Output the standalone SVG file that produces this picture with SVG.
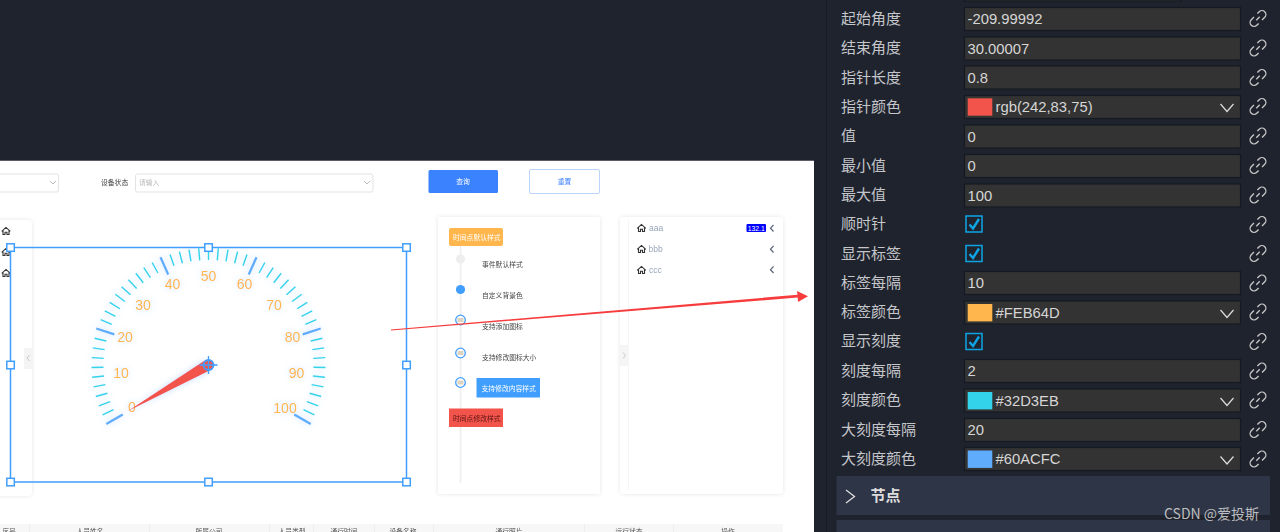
<svg xmlns="http://www.w3.org/2000/svg" width="1280" height="532" viewBox="0 0 1280 532">
<style>
text{font-family:"Liberation Sans","Noto Sans CJK SC",sans-serif}
.cn{font-family:"Noto Sans CJK SC","Noto Sans",sans-serif}
.lb{font-family:"Noto Sans CJK SC",sans-serif;font-size:15px;fill:#c4c6ca}
.val{font-size:14.8px;fill:#d6d6d6}
.inp{fill:#333333;stroke:#141922;stroke-width:1.2}
.chk{fill:none;stroke:#0ea5e6;stroke-width:1.5}
.chkm{fill:none;stroke:#0ea5e6;stroke-width:2.4}
.chev{fill:none;stroke:#dddddd;stroke-width:1.2}
.lnk{fill:none;stroke:#c8c8c8;stroke-width:1.1}
.s{font-family:"Noto Sans CJK SC",sans-serif;font-size:6.8px;fill:#444;filter:url(#soft)}
.g{font-size:14px;fill:#feb64d;text-anchor:middle}
.tick{stroke:#32d3eb;stroke-width:1.4}
.major{stroke:#60acfc;stroke-width:2.2}
.hd{fill:#fff;stroke:#409eff;stroke-width:1.5}
.card{fill:#fff;filter:url(#cardsh)}
.sep{stroke:#eeeeee;stroke-width:1}
.th{font-family:"Noto Sans CJK SC",sans-serif;font-size:6.8px;fill:#555;text-anchor:middle;filter:url(#soft)}
.it{font-size:8.5px;fill:#98a6bc;filter:url(#soft)}
.arr{fill:none;stroke:#5a6478;stroke-width:1.2}
</style>
<defs>
<filter id="glow" x="-20%" y="-20%" width="140%" height="140%"><feDropShadow dx="0" dy="0" stdDeviation="3" flood-color="#60acfc" flood-opacity="0.4"/></filter>
<filter id="cardsh" x="-10%" y="-10%" width="120%" height="120%"><feDropShadow dx="0" dy="0" stdDeviation="2" flood-color="#000" flood-opacity="0.1"/></filter>
<filter id="soft" x="-10%" y="-30%" width="120%" height="160%"><feGaussianBlur stdDeviation="0.35"/></filter>
<g id="link" class="lnk"><g transform="rotate(-45) scale(1.22)"><path d="M-1.5,-3.2H-4.6A3.2,3.2 0 0 0 -4.6,3.2H-2.5M1.5,3.2H4.6A3.2,3.2 0 0 0 4.6,-3.2H2.5M-2,0H2"/></g></g>
<path id="dd" class="chev" d="M0,0L6.500,7.500L13,0"/>
<g id="check"><rect class="chk" x="0" y="0" width="16" height="16"/><path class="chkm" d="M3.500,8.500L7,12.500L13,3"/></g>
<line id="t" class="tick" x1="208.500" y1="248" x2="208.500" y2="260"/>
<line id="m" class="major" x1="208.500" y1="247" x2="208.500" y2="266"/>
<path id="home" d="M-4.300,0.300L0,-3.600L4.300,0.300M-3,-0.700V3.500H-1V1.200H1V3.500H3V-0.700" fill="none" stroke="#333" stroke-width="1.100"/>
<g id="ic"><circle r="4.800" fill="#fff" stroke="#409eff" stroke-width="1.300"/><rect x="-3" y="-2" width="6" height="4" fill="#dcd2c2"/></g>
</defs>

<rect width="1280" height="532" fill="#1f232d"/>
<rect id="page" x="0" y="160" width="814" height="372" fill="#ffffff"/>
<rect x="0" y="160" width="814" height="1" fill="#5a5d66"/>
<rect x="826" y="0" width="1" height="532" fill="#171b23"/>

<g id="search-form">
<rect x="-5" y="174" width="63.500" height="18" rx="2" fill="#fff" stroke="#e3e3e3"/>
<path d="M50,181l3,3l3,-3" fill="none" stroke="#aaa" stroke-width=".8"/>
<text class="s" x="101" y="184.500">设备状态</text>
<rect x="135.500" y="174" width="237.500" height="18" rx="2" fill="#fff" stroke="#e3e3e3"/>
<text class="s" x="139" y="185" style="fill:#bbb">请输入</text>
<path d="M364,181l3,3l3,-3" fill="none" stroke="#aaa" stroke-width=".8"/>
<rect x="428.500" y="170" width="69.500" height="23" rx="1.500" fill="#3b82ff"/>
<text class="s" x="463" y="184" text-anchor="middle" style="fill:#fff">查询</text>
<rect x="529.500" y="169.500" width="70" height="24" rx="1.500" fill="#fff" stroke="#bcd4fa"/>
<text class="s" x="564.500" y="184" text-anchor="middle" style="fill:#3b7fff">重置</text>
</g>

<g id="left-card">
<rect class="card" x="-10" y="220" width="42" height="276" rx="4"/>
<use href="#home" x="6" y="231"/><use href="#home" x="6" y="252"/><use href="#home" x="6" y="273"/>
<rect x="24" y="348" width="8" height="21" fill="#f4f4f4"/>
<path d="M29.500,355l-2.500,3l2.500,3" fill="none" stroke="#bbb" stroke-width=".8"/>
</g>

<g id="gauge">
<g filter="url(#glow)">
<use href="#m" transform="rotate(-120 208.500 365)"/><use href="#t" transform="rotate(-115.2 208.500 365)"/><use href="#t" transform="rotate(-110.4 208.500 365)"/><use href="#t" transform="rotate(-105.6 208.500 365)"/><use href="#t" transform="rotate(-100.8 208.500 365)"/><use href="#t" transform="rotate(-96 208.500 365)"/><use href="#t" transform="rotate(-91.2 208.500 365)"/><use href="#t" transform="rotate(-86.4 208.500 365)"/><use href="#t" transform="rotate(-81.6 208.500 365)"/><use href="#t" transform="rotate(-76.8 208.500 365)"/>
<use href="#m" transform="rotate(-72 208.500 365)"/><use href="#t" transform="rotate(-67.2 208.500 365)"/><use href="#t" transform="rotate(-62.4 208.500 365)"/><use href="#t" transform="rotate(-57.6 208.500 365)"/><use href="#t" transform="rotate(-52.8 208.500 365)"/><use href="#t" transform="rotate(-48 208.500 365)"/><use href="#t" transform="rotate(-43.2 208.500 365)"/><use href="#t" transform="rotate(-38.4 208.500 365)"/><use href="#t" transform="rotate(-33.6 208.500 365)"/><use href="#t" transform="rotate(-28.8 208.500 365)"/>
<use href="#m" transform="rotate(-24 208.500 365)"/><use href="#t" transform="rotate(-19.2 208.500 365)"/><use href="#t" transform="rotate(-14.4 208.500 365)"/><use href="#t" transform="rotate(-9.6 208.500 365)"/><use href="#t" transform="rotate(-4.8 208.500 365)"/><use href="#t"/><use href="#t" transform="rotate(4.8 208.500 365)"/><use href="#t" transform="rotate(9.6 208.500 365)"/><use href="#t" transform="rotate(14.4 208.500 365)"/><use href="#t" transform="rotate(19.2 208.500 365)"/>
<use href="#m" transform="rotate(24 208.500 365)"/><use href="#t" transform="rotate(28.8 208.500 365)"/><use href="#t" transform="rotate(33.6 208.500 365)"/><use href="#t" transform="rotate(38.4 208.500 365)"/><use href="#t" transform="rotate(43.2 208.500 365)"/><use href="#t" transform="rotate(48 208.500 365)"/><use href="#t" transform="rotate(52.8 208.500 365)"/><use href="#t" transform="rotate(57.6 208.500 365)"/><use href="#t" transform="rotate(62.4 208.500 365)"/><use href="#t" transform="rotate(67.2 208.500 365)"/>
<use href="#m" transform="rotate(72 208.500 365)"/><use href="#t" transform="rotate(76.8 208.500 365)"/><use href="#t" transform="rotate(81.6 208.500 365)"/><use href="#t" transform="rotate(86.4 208.500 365)"/><use href="#t" transform="rotate(91.2 208.500 365)"/><use href="#t" transform="rotate(96 208.500 365)"/><use href="#t" transform="rotate(100.8 208.500 365)"/><use href="#t" transform="rotate(105.6 208.500 365)"/><use href="#t" transform="rotate(110.4 208.500 365)"/><use href="#t" transform="rotate(115.2 208.500 365)"/>
<use href="#m" transform="rotate(120 208.500 365)"/>
<text class="g" x="132" y="412">0</text><text class="g" x="121" y="377.500">10</text><text class="g" x="125" y="341.500">20</text><text class="g" x="143" y="310">30</text><text class="g" x="172.500" y="288.500">40</text><text class="g" x="208.500" y="280.500">50</text><text class="g" x="244.500" y="288.500">60</text><text class="g" x="274" y="310">70</text><text class="g" x="292.500" y="341.500">80</text><text class="g" x="296.500" y="377.500">90</text><text class="g" x="285" y="412.500">100</text>
<path d="M128,411L205.500,360L211.500,369.500Z" fill="#f2534b"/>
</g>
<g id="needle-hub">
<circle cx="208.500" cy="365" r="5" fill="#f2534b" stroke="#409eff" stroke-width="1.800"/>
<path d="M208.500,356V374M199.500,365H217.500" stroke="#409eff" stroke-width="1.300"/>
</g>
</g>

<g id="selection">
<rect x="10.500" y="247.500" width="396" height="234.500" fill="none" stroke="#409eff" stroke-width="1.500"/>
<rect class="hd" x="6.800" y="243.800" width="7.500" height="7.500"/><rect class="hd" x="204.800" y="243.800" width="7.500" height="7.500"/><rect class="hd" x="402.800" y="243.800" width="7.500" height="7.500"/>
<rect class="hd" x="6.800" y="361.300" width="7.500" height="7.500"/><rect class="hd" x="402.800" y="361.300" width="7.500" height="7.500"/>
<rect class="hd" x="6.800" y="478.300" width="7.500" height="7.500"/><rect class="hd" x="204.800" y="478.300" width="7.500" height="7.500"/><rect class="hd" x="402.800" y="478.300" width="7.500" height="7.500"/>
</g>

<g id="timeline">
<rect class="card" x="438" y="217" width="162" height="277" rx="1"/>
<rect x="459.800" y="246" width="1.600" height="237" fill="#eeeeee"/>
<rect x="449" y="228" width="54" height="18" rx="2" fill="#feb64d"/>
<text class="s" x="453" y="239.500" style="fill:#fff">时间点默认样式</text>
<circle cx="460.500" cy="259" r="4.600" fill="#eeeeee"/>
<text class="s" x="482" y="267">事件默认样式</text>
<circle cx="460.500" cy="289.500" r="4.600" fill="#409eff"/>
<text class="s" x="482" y="297.500">自定义背景色</text>
<use href="#ic" x="460.500" y="320"/>
<text class="s" x="482" y="329">支持添加图标</text>
<use href="#ic" x="460.500" y="353"/>
<text class="s" x="482" y="360">支持修改图标大小</text>
<use href="#ic" x="460.500" y="382.500"/>
<rect x="476.500" y="378" width="63.500" height="19.500" fill="#409eff"/>
<text class="s" x="481.500" y="390.500" style="fill:#fff">支持修改内容样式</text>
<rect x="449" y="408.500" width="54" height="18.500" fill="#f2534b"/>
<text class="s" x="453" y="420.500" style="fill:#5a1512">时间点修改样式</text>
</g>

<g id="tree-list">
<rect class="card" x="620" y="217" width="163" height="277" rx="4"/>
<line x1="628.500" y1="220" x2="628.500" y2="490" stroke="#f5f5f5"/>
<use href="#home" x="641.500" y="228"/><text class="it" x="649" y="231">aaa</text>
<rect x="746.500" y="224" width="19.500" height="8" rx="1" fill="#0000ff"/>
<text x="756.200" y="230.500" font-size="6.800" fill="#fff" text-anchor="middle">132.1</text>
<path class="arr" d="M773.500,225L770.500,228.200L773.500,231.500"/>
<use href="#home" x="641.500" y="249"/><text class="it" x="648.500" y="251.500">bbb</text>
<path class="arr" d="M773.500,246L770.500,249.200L773.500,252.500"/>
<use href="#home" x="641.500" y="270"/><text class="it" x="649" y="272.500">ccc</text>
<path class="arr" d="M773.500,266.500L770.500,269.700L773.500,273"/>
<rect x="620" y="345" width="8" height="21" fill="#f5f5f5"/>
<path d="M623,352.500l2.500,3l-2.500,3" fill="none" stroke="#bbb" stroke-width=".8"/>
</g>

<g id="table-header">
<rect x="-5" y="524" width="788" height="12" fill="#f7f7f7"/>
<path class="sep" d="M29.500,524V532M149.500,524V532M269.500,524V532M313.500,524V532M374.500,524V532M433.500,524V532M584.500,524V532M673.500,524V532"/>
<text class="th" x="9" y="534">序号</text><text class="th" x="90" y="534">人员姓名</text><text class="th" x="209" y="534">所属公司</text><text class="th" x="292" y="534">人员类型</text><text class="th" x="344" y="534">通行时间</text><text class="th" x="403" y="534">设备名称</text><text class="th" x="509" y="534">通行照片</text><text class="th" x="629" y="534">运行状态</text><text class="th" x="728" y="534">操作</text>
</g>

<g id="connectors">
<path d="M391,329.400L797.500,294.800L797,291L808,296.300L798,302L797.700,297.600L391,330.400Z" fill="#f63c3c"/>
</g>

<g id="props">
<rect class="inp" x="964.500" y="-20" width="217" height="21"/>
<g class="rows">
<text class="lb" x="841" y="24">起始角度</text><rect class="inp" x="964.500" y="7.500" width="276" height="23"/><text class="val" x="967.500" y="24">-209.99992</text>
<text class="lb" x="841" y="53">结束角度</text><rect class="inp" x="964.500" y="37" width="276" height="23"/><text class="val" x="967.500" y="53.500">30.00007</text>
<text class="lb" x="841" y="82.500">指针长度</text><rect class="inp" x="964.500" y="66" width="276" height="23"/><text class="val" x="967.500" y="83">0.8</text>
<text class="lb" x="841" y="111.500">指针颜色</text><rect class="inp" x="964.500" y="95.500" width="276" height="23"/><rect x="967.700" y="98.300" width="24.600" height="17.400" fill="#f2534b"/><text class="val" x="995.500" y="112">rgb(242,83,75)</text><use href="#dd" x="1220.500" y="104"/>
<text class="lb" x="841" y="141">值</text><rect class="inp" x="964.500" y="125" width="276" height="23"/><text class="val" x="967.500" y="141.500">0</text>
<text class="lb" x="841" y="170.500">最小值</text><rect class="inp" x="964.500" y="154.500" width="276" height="23"/><text class="val" x="967.500" y="171">0</text>
<text class="lb" x="841" y="200">最大值</text><rect class="inp" x="964.500" y="184" width="276" height="23"/><text class="val" x="967.500" y="200.500">100</text>
<text class="lb" x="841" y="229">顺时针</text><use href="#check" x="966" y="216"/>
<text class="lb" x="841" y="258.500">显示标签</text><use href="#check" x="966" y="245.500"/>
<text class="lb" x="841" y="288">标签每隔</text><rect class="inp" x="964.500" y="271.500" width="276" height="23"/><text class="val" x="967.500" y="288">10</text>
<text class="lb" x="841" y="317">标签颜色</text><rect class="inp" x="964.500" y="301" width="276" height="23"/><rect x="967.700" y="304" width="24.600" height="17.400" fill="#feb64d"/><text class="val" x="995.500" y="317.500">#FEB64D</text><use href="#dd" x="1220.500" y="310"/>
<text class="lb" x="841" y="346">显示刻度</text><use href="#check" x="966" y="333.500"/>
<text class="lb" x="841" y="376">刻度每隔</text><rect class="inp" x="964.500" y="359.500" width="276" height="23"/><text class="val" x="967.500" y="376">2</text>
<text class="lb" x="841" y="405">刻度颜色</text><rect class="inp" x="964.500" y="389" width="276" height="23"/><rect x="967.700" y="392" width="24.600" height="17.400" fill="#32d3eb"/><text class="val" x="995.500" y="405.500">#32D3EB</text><use href="#dd" x="1220.500" y="398"/>
<text class="lb" x="841" y="435">大刻度每隔</text><rect class="inp" x="964.500" y="418.500" width="276" height="23"/><text class="val" x="967.500" y="435">20</text>
<text class="lb" x="841" y="464">大刻度颜色</text><rect class="inp" x="964.500" y="447.500" width="276" height="23"/><rect x="967.700" y="450.500" width="24.600" height="17.400" fill="#60acfc"/><text class="val" x="995.500" y="464">#60ACFC</text><use href="#dd" x="1220.500" y="456.500"/>
</g>
<g id="links">
<use href="#link" x="1258" y="18.500"/><use href="#link" x="1258" y="48"/><use href="#link" x="1258" y="77.500"/><use href="#link" x="1258" y="106.500"/><use href="#link" x="1258" y="136"/><use href="#link" x="1258" y="165.500"/><use href="#link" x="1258" y="195"/><use href="#link" x="1258" y="224.500"/><use href="#link" x="1258" y="253.500"/><use href="#link" x="1258" y="283"/><use href="#link" x="1258" y="312"/><use href="#link" x="1258" y="341.500"/><use href="#link" x="1258" y="371"/><use href="#link" x="1258" y="400"/><use href="#link" x="1258" y="429.500"/><use href="#link" x="1258" y="459"/>
</g>
<g id="section-node">
<rect x="836.500" y="476" width="433.500" height="39" fill="#2e3546"/>
<path d="M846,490L854.500,496.500L846,503" fill="none" stroke="#dddddd" stroke-width="1.300"/>
<text class="cn" x="870.500" y="501" font-size="15" font-weight="700" fill="#dddddd">节点</text>
</g>
<rect id="section-next" x="836.500" y="520" width="433.500" height="14" fill="#2e3546"/>
</g>
<text id="watermark" x="1164" y="519" font-size="14" fill="#d8d8d8" fill-opacity="0.85" style="font-family:'Noto Sans CJK SC','Liberation Sans',sans-serif">CSDN @爱投斯</text>
</svg>
